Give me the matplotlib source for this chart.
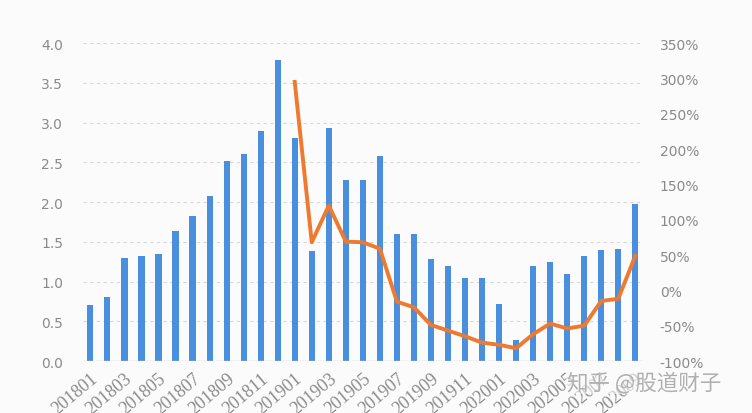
import matplotlib
matplotlib.use("Agg")
import matplotlib.pyplot as plt
import numpy as np

# Monthly categories 201801 .. 202009
months = [f"{y}{m:02d}" for y in (2018, 2019, 2020) for m in range(1, 13)][:33]

# Left axis: bar values
bar_values = [0.70, 0.81, 1.30, 1.32, 1.35, 1.63, 1.82, 2.07, 2.51, 2.60, 2.89, 3.79,
              2.80, 1.38, 2.93, 2.28, 2.28, 2.58, 1.60, 1.60, 1.28, 1.19, 1.05, 1.05,
              0.72, 0.27, 1.19, 1.25, 1.09, 1.32, 1.40, 1.41, 1.98]

# Right axis: YoY change (%), starts at 201901
line_values = [295, 68, 120, 69, 68, 59, -16, -24, -49, -57, -65, -74,
               -77, -82, -62, -47, -54, -50, -15, -12, 49]
line_start = 12

left_ticks = [0.0, 0.5, 1.0, 1.5, 2.0, 2.5, 3.0, 3.5, 4.0]
right_ticks = [-100, -50, 0, 50, 100, 150, 200, 250, 300, 350]

BG = "#fbfbfb"
BAR = "#4a8ede"
LINE = "#ee7a2f"
TXT = "#8a8a8a"

plt.rcParams["font.family"] = ["DejaVu Sans"]

fig = plt.figure(figsize=(7.52, 4.14), dpi=100, facecolor=BG)
ax = fig.add_axes([0.110, 0.1256, 0.745, 0.768])
ax.set_facecolor(BG)

x = np.arange(len(months))
ax.bar(x, bar_values, width=0.36, color=BAR, zorder=2)
ax.set_xlim(-0.45, len(months) - 0.55)
ax.set_ylim(0, 4.0)
ax.set_yticks(left_ticks)
ax.set_yticklabels([f"{v:.1f}" for v in left_ticks])
for v in left_ticks[1:]:
    ax.axhline(v, color="#d8d8d8", linewidth=0.8, linestyle=(0, (3, 3)), zorder=1)
ax.axhline(0, color="#d0d0d0", linewidth=1.0, zorder=3)

for s in ax.spines.values():
    s.set_visible(False)
ax.tick_params(axis="y", length=0, labelsize=10, labelcolor=TXT, pad=14)
ax.set_xticks(x[::2])
ax.set_xticklabels(months[::2], rotation=40, ha="right", rotation_mode="anchor",
                   family="Liberation Serif")
ax.tick_params(axis="x", length=0, labelsize=13, labelcolor=TXT, pad=6)

ax2 = ax.twinx()
ax2.plot(x[line_start:], line_values, color=LINE, linewidth=2.8, zorder=4,
         solid_joinstyle="round")
ax2.set_ylim(-100, 350)
ax2.set_yticks(right_ticks)
ax2.set_yticklabels([f"{v}%" for v in right_ticks])
ax2.tick_params(axis="y", length=0, labelsize=10, labelcolor=TXT, pad=12)
for s in ax2.spines.values():
    s.set_visible(False)

fig.text(0.857, 0.075, "知乎 @股道财子", fontsize=15.5, color="#b0b0b0",
         ha="center", va="center", family=["Noto Sans CJK SC", "DejaVu Sans"],
         bbox=dict(boxstyle="square,pad=0.05", fc=BG, ec="none", alpha=0.6))

fig.savefig("out.png", dpi=100, facecolor=BG)
